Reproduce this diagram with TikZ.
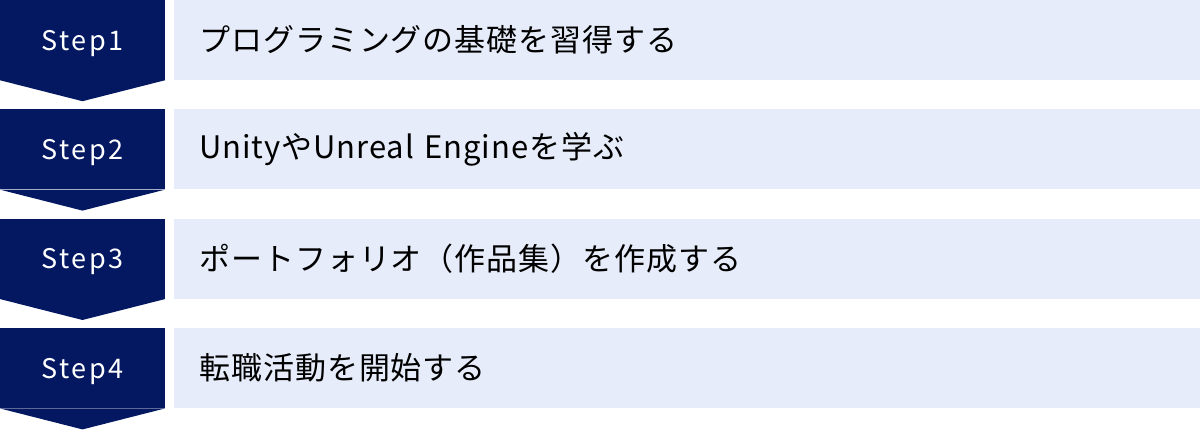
\documentclass[tikz,border=0pt]{standalone}
\usepackage{fontspec}
\usepackage{tikz}
\usetikzlibrary{positioning}
\newfontfamily\stepfont[LetterSpace=9]{Noto Sans CJK JP}
\newfontfamily\jpfont[LetterSpace=3]{Noto Sans CJK JP}
\definecolor{stepnavy}{HTML}{041862}
\definecolor{rowblue}{HTML}{E6ECF9}

\begin{document}
\begin{tikzpicture}[node distance=29pt, stepbox/.style={rectangle,fill=stepnavy,text=white,minimum width=165pt,minimum height=80pt,inner sep=0pt,text depth=0pt,font=\stepfont\fontsize{27pt}{32pt}\selectfont}, rowbox/.style={rectangle,fill=rowblue,text=black,minimum height=80pt,text width=976pt,inner xsep=25pt,inner ysep=0pt,align=left,font=\jpfont\fontsize{31pt}{36pt}\selectfont}]
	\useasboundingbox (0,0) rectangle (1200pt,-429pt);
	\node[stepbox] (s1) at (82.5pt,-40pt) {Step1};
	\node[stepbox] (s2) [below=of s1] {Step2};
	\node[stepbox] (s3) [below=of s2] {Step3};
	\node[stepbox] (s4) [below=of s3] {Step4};
	\node[rowbox] (r1) [right=9pt of s1] {プログラミングの基礎を習得する};
	\node[rowbox] (r2) [right=9pt of s2] {UnityやUnreal Engineを学ぶ};
	\node[rowbox] (r3) [right=9pt of s3] {ポートフォリオ（作品集）を作成する};
	\node[rowbox] (r4) [right=9pt of s4] {転職活動を開始する};
	% chevron tips
	\fill[stepnavy] (s1.south west) -- (s1.south east) -- ([yshift=-21pt]s1.south) -- cycle;
	\fill[stepnavy] (s2.south west) -- (s2.south east) -- ([yshift=-21pt]s2.south) -- cycle;
	\fill[stepnavy] (s3.south west) -- (s3.south east) -- ([yshift=-21pt]s3.south) -- cycle;
	\fill[stepnavy] (s4.south west) -- (s4.south east) -- ([yshift=-21pt]s4.south) -- cycle;
\end{tikzpicture}
\end{document}
